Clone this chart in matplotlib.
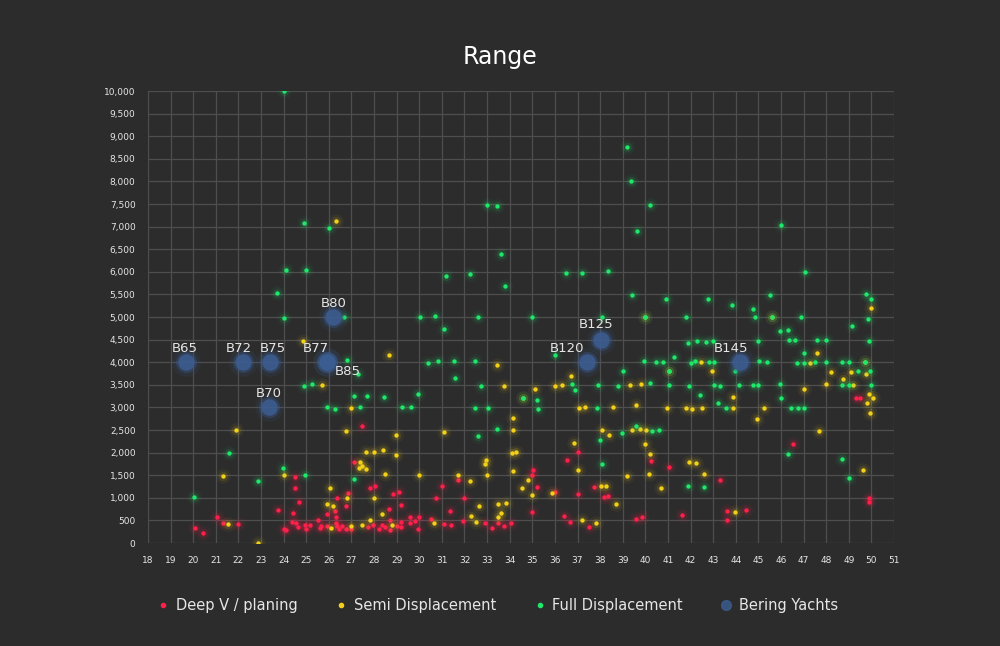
import matplotlib
matplotlib.use("Agg")
import matplotlib.pyplot as plt
from matplotlib.lines import Line2D
import numpy as np

# Deep V / planing
red_pts = [
    (49.3, 3210), (49.5, 3210), (46.55, 2200), (41.05, 1680), (43.3, 1390), (49.9, 1000), (49.9, 910),
    (41.6, 620), (43.6, 700), (44.45, 730), (43.6, 520),
    (28.85, 1090), (29.1, 1120), (29.2, 850), (28.65, 750), (30.75, 1000), (31.0, 1270), (31.7, 1390),
    (32.0, 1000), (31.35, 700), (35.05, 1610), (35.0, 1500), (35.2, 1250), (35.0, 680), (36.0, 1120),
    (37.0, 2010), (36.55, 1830), (37.0, 1090), (36.4, 600), (36.65, 470), (37.5, 350), (37.75, 1230),
    (38.15, 1020), (38.35, 1030), (40.25, 1810), (39.6, 530), (39.85, 570),
    (29.6, 570), (29.8, 490), (30.0, 570), (29.6, 440), (29.95, 300), (30.5, 540), (31.1, 430), (31.4, 400),
    (31.95, 490), (32.9, 440), (33.2, 330), (33.5, 440), (33.75, 380), (34.05, 450),
    (28.7, 520), (29.2, 460), (29.2, 360), (29.0, 380), (28.5, 350), (28.7, 290), (28.2, 300), (28.35, 400),
    (24.5, 1450), (24.5, 1210), (24.7, 900), (23.75, 740), (26.85, 1110), (26.35, 1000), (26.75, 830),
    (26.25, 710), (25.9, 640), (26.3, 570), (24.4, 660),
    (27.45, 2600), (27.1, 1800), (27.8, 1210), (28.05, 1260), (21.05, 580), (21.3, 450), (22.0, 410),
    (20.1, 330), (20.45, 230), (24.35, 470), (24.0, 320), (24.1, 280), (24.55, 440), (24.65, 350),
    (24.95, 400), (25.0, 320), (25.15, 400), (25.5, 500), (25.6, 330), (25.65, 380), (25.9, 380),
    (26.3, 450), (26.35, 380), (26.45, 320), (26.6, 380), (26.75, 310), (27.0, 300), (27.75, 350),
    (27.95, 400),
]

# Semi Displacement
yellow_pts = [
    (26.3, 7120), (28.65, 4150), (33.45, 3940), (36.7, 3690), (24.85, 4480), (25.7, 3500), (27.0, 2990),
    (26.75, 2480), (21.9, 2490), (27.4, 1800), (27.65, 2010), (28.0, 2010), (28.4, 2060), (28.95, 1950),
    (28.95, 2400), (27.35, 1670), (27.45, 1710), (27.65, 1640), (28.5, 1520), (21.3, 1490), (24.0, 1500),
    (26.05, 1210), (26.8, 1000), (25.9, 860), (26.2, 810), (28.0, 1000), (28.35, 640), (27.8, 510),
    (21.55, 420), (22.85, 0), (26.1, 340), (27.0, 380), (27.45, 400), (28.8, 400),
    (40.0, 5000), (45.6, 5000), (50.0, 5210), (49.7, 4000), (41.05, 3800), (34.6, 3200),
    (42.45, 4000), (47.6, 4210), (47.3, 3990), (42.95, 3800), (48.2, 3780), (49.1, 3790), (49.75, 3750),
    (48.75, 3630), (39.3, 3500), (39.8, 3520), (48.0, 3520), (49.2, 3490), (47.0, 3410), (49.9, 3290),
    (50.05, 3210), (49.8, 3090), (49.95, 2880), (43.9, 3220), (38.55, 3010), (39.6, 3050), (40.95, 2990),
    (41.8, 2990), (42.05, 2960), (42.5, 2990), (43.9, 2990), (45.25, 2990), (44.95, 2740), (47.7, 2480),
    (38.1, 2490), (38.4, 2380), (39.4, 2500), (39.75, 2520), (40.05, 2490), (40.0, 2180), (40.2, 1960),
    (49.65, 1610), (41.95, 1790), (42.25, 1760), (42.6, 1520), (40.7, 1210), (43.95, 690),
    (33.75, 3480), (35.1, 3410), (36.0, 3470), (36.3, 3490), (37.05, 2990), (37.35, 3010), (34.15, 2760),
    (34.15, 2490), (31.1, 2460), (30.0, 1510), (31.7, 1500), (32.25, 1370), (32.65, 830), (32.3, 590),
    (32.95, 1830), (32.9, 1750), (33.0, 1500), (34.1, 2000), (34.3, 2010), (34.15, 1600), (33.5, 860),
    (33.6, 660), (33.5, 580), (33.85, 890), (34.55, 1220), (34.8, 1390), (35.0, 1060), (35.85, 1110),
    (36.85, 2210), (37.0, 1610), (37.2, 500), (37.8, 440), (38.05, 1270), (38.25, 1270), (38.7, 860),
    (39.2, 1480), (40.15, 1530), (30.65, 450), (32.5, 460),
]

# Full Displacement
green_pts = [
    (24.0, 10000), (24.9, 7070), (26.0, 6980), (24.1, 6030), (25.0, 6050),
    (39.2, 8760), (39.35, 8000), (33.0, 7480), (33.45, 7450), (40.2, 7470), (39.65, 6900), (33.6, 6400),
    (31.2, 5910), (32.25, 5950), (36.5, 5980), (37.2, 5980), (38.35, 6010), (33.8, 5680), (39.4, 5480),
    (40.9, 5390), (30.05, 5000), (30.7, 5020), (32.6, 4990), (35.0, 5000), (38.1, 5000), (40.0, 5000),
    (31.1, 4730), (30.4, 3980), (30.85, 4030), (31.55, 4030), (32.45, 4020), (31.6, 3640), (39.0, 3810),
    (39.95, 4030), (40.45, 4000), (40.8, 4000), (41.25, 4110), (41.05, 3800), (36.0, 4170),
    (46.0, 7030), (47.05, 6000), (42.75, 5390), (45.5, 5490), (49.75, 5500), (50.0, 5400), (43.85, 5260),
    (44.75, 5180), (44.85, 5010), (41.8, 5000), (45.6, 5000), (46.9, 5010), (49.85, 4960), (49.15, 4810),
    (45.95, 4700), (46.3, 4710), (41.9, 4420), (42.3, 4480), (42.7, 4450), (43.0, 4480), (45.0, 4480),
    (46.35, 4500), (46.6, 4500), (47.6, 4500), (48.0, 4500), (49.9, 4480), (42.0, 3990), (42.2, 4020),
    (42.8, 4010), (43.05, 4000), (45.05, 4020), (45.4, 4010), (46.7, 3990), (47.0, 3990), (47.5, 4000),
    (48.0, 4000), (48.7, 4000), (49.0, 4000), (49.7, 4000), (47.0, 4210), (43.95, 3810), (49.4, 3810),
    (49.95, 3800),
    (38.8, 3480), (40.2, 3530), (41.05, 3500), (41.95, 3480), (43.05, 3500), (43.3, 3480), (44.15, 3500),
    (44.75, 3500), (45.0, 3500), (45.95, 3510), (48.7, 3490), (49.0, 3490), (50.0, 3500), (42.4, 3270),
    (46.0, 3200), (43.2, 3090), (43.55, 2990), (46.45, 2980), (46.75, 2980), (47.0, 2990), (38.95, 2440),
    (40.3, 2480), (40.6, 2510), (39.6, 2600), (46.3, 1960), (48.7, 1850), (49.0, 1440), (41.9, 1260),
    (42.6, 1230),
    (28.45, 3230), (29.25, 3000), (29.65, 3000), (29.95, 3300), (32.75, 3470), (32.45, 2990), (33.05, 2990),
    (32.6, 2370), (33.45, 2530), (34.6, 3200), (35.2, 3160), (35.25, 2970), (36.75, 3520), (36.9, 3380),
    (37.9, 3490), (37.85, 2990), (38.0, 2280), (38.1, 1750),
    (21.6, 2000), (23.95, 1650), (22.85, 1380), (24.95, 1510), (27.1, 1420), (20.05, 1010),
    (23.7, 5540), (24.0, 4980), (26.65, 4990), (26.8, 4050), (27.3, 3750), (24.9, 3480), (25.25, 3520),
    (25.9, 3000), (26.25, 2960), (27.1, 3260), (27.4, 3020), (27.7, 3250),
]

# Bering Yachts: name, length, range, label offset (points)
bering_names = ["B65", "B70", "B72", "B75", "B77", "B80", "B85", "B120", "B125", "B145"]
bering_x = [19.7, 23.35, 22.2, 23.4, 25.9, 26.2, 25.9, 37.4, 38.05, 44.2]
bering_y = [4000, 3000, 4000, 4000, 4000, 5000, 4000, 4000, 4500, 4000]
label_off = [(-1, 10), (0, 10), (-3, 10), (2, 10), (-8, 10), (0, 10), (15, -7), (-14, 10), (-4, 11), (-7, 10)]

x_ticks = list(range(18, 52))
y_ticks = list(range(0, 10001, 500))

BG = "#2c2c2c"
RED = "#ff1f4b"
YELLOW = "#f2d01a"
GREEN = "#1ee86a"
BLUE = "#3c5d91"
TXT = "#e6e6e6"

fig = plt.figure(figsize=(10, 6.46), dpi=100, facecolor=BG)
ax = fig.add_axes([0.148, 0.1594, 0.746, 0.6997])
ax.set_facecolor(BG)


def glow_scatter(pts, color, z):
    xs = [p[0] for p in pts]
    ys = [p[1] for p in pts]
    ax.scatter(xs, ys, s=110, color=color, alpha=0.05, linewidths=0, zorder=z)
    ax.scatter(xs, ys, s=45, color=color, alpha=0.12, linewidths=0, zorder=z)
    ax.scatter(xs, ys, s=10, color=color, alpha=1.0, linewidths=0, zorder=z + 0.1)


glow_scatter(red_pts, RED, 3)
glow_scatter(yellow_pts, YELLOW, 4)
glow_scatter(green_pts, GREEN, 5)

ax.scatter(bering_x, bering_y, s=420, color=BLUE, alpha=0.12, linewidths=0, zorder=6)
ax.scatter(bering_x, bering_y, s=230, color=BLUE, alpha=0.35, linewidths=0, zorder=6)
ax.scatter(bering_x, bering_y, s=140, color=BLUE, alpha=0.85, linewidths=0, zorder=6)
for name, x, y, off in zip(bering_names, bering_x, bering_y, label_off):
    ax.annotate(name, (x, y), xytext=off, textcoords="offset points",
                ha="center", va="center", color=TXT, fontsize=9.5, zorder=7)

ax.set_xlim(18, 51)
ax.set_ylim(0, 10000)
ax.set_xticks(x_ticks)
ax.set_yticks(y_ticks)
ax.set_yticklabels([f"{v:,}" for v in y_ticks])
ax.tick_params(colors=TXT, labelsize=6.5, length=0)
ax.tick_params(axis="y", pad=9)
ax.tick_params(axis="x", pad=9)
ax.grid(True, color="#4e4e4e", linewidth=0.9)
ax.set_axisbelow(True)
for s in ax.spines.values():
    s.set_visible(False)

fig.text(0.5, 0.912, "Range", ha="center", va="center", color="white", fontsize=17)

handles = [
    Line2D([], [], marker="o", ls="", color=RED, markersize=3),
    Line2D([], [], marker="o", ls="", color=YELLOW, markersize=3),
    Line2D([], [], marker="o", ls="", color=GREEN, markersize=3),
    Line2D([], [], marker="o", ls="", color=BLUE, markersize=7, alpha=0.8),
]
labels = ["Deep V / planing", "Semi Displacement", "Full Displacement", "Bering Yachts"]
fig.legend(handles, labels, loc="center", bbox_to_anchor=(0.497, 0.062), ncol=4, frameon=False,
           fontsize=10.5, labelcolor=TXT, handletextpad=0.35, columnspacing=2.5, handlelength=1)

fig.savefig("out.png", dpi=100, facecolor=BG)
